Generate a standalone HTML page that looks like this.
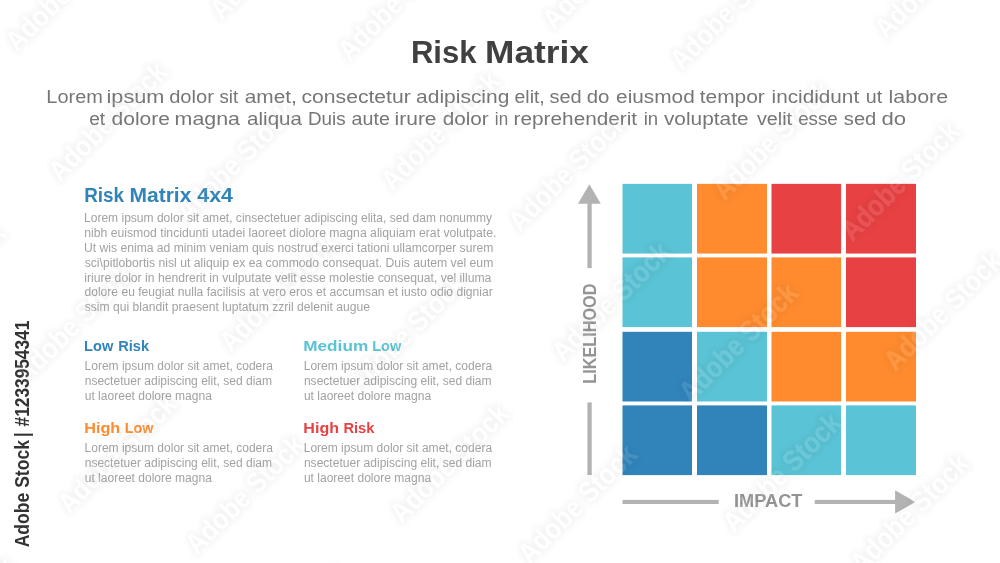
<!DOCTYPE html>
<html lang="en"><head><meta charset="utf-8"><title>Risk Matrix</title>
<style>html,body{margin:0;padding:0;background:#fff;overflow:hidden}svg{display:block;font-family:"Liberation Sans",sans-serif}</style></head><body>
<svg width="1000" height="563" viewBox="0 0 1000 563">
<rect width="1000" height="563" fill="#ffffff"/>
<defs><filter id="og" x="-2%" y="-2%" width="104%" height="104%" color-interpolation-filters="sRGB"><feMorphology in="SourceAlpha" operator="dilate" radius="1.6" result="d"/><feGaussianBlur in="d" stdDeviation="3" result="b"/><feComposite in="b" in2="SourceAlpha" operator="out"/></filter></defs>
<g>
<rect x="622.50" y="183.85" width="69.50" height="69.70" fill="#5AC3D5"/>
<rect x="697.00" y="183.85" width="70.00" height="69.70" fill="#FF8B2E"/>
<rect x="771.50" y="183.85" width="69.60" height="69.70" fill="#E84143"/>
<rect x="846.00" y="183.85" width="70.00" height="69.70" fill="#E84143"/>
<rect x="622.50" y="257.40" width="69.50" height="69.70" fill="#5AC3D5"/>
<rect x="697.00" y="257.40" width="70.00" height="69.70" fill="#FF8B2E"/>
<rect x="771.50" y="257.40" width="69.60" height="69.70" fill="#FF8B2E"/>
<rect x="846.00" y="257.40" width="70.00" height="69.70" fill="#E84143"/>
<rect x="622.50" y="331.80" width="69.50" height="69.70" fill="#3084BA"/>
<rect x="697.00" y="331.80" width="70.00" height="69.70" fill="#5AC3D5"/>
<rect x="771.50" y="331.80" width="69.60" height="69.70" fill="#FF8B2E"/>
<rect x="846.00" y="331.80" width="70.00" height="69.70" fill="#FF8B2E"/>
<rect x="622.50" y="405.40" width="69.50" height="69.70" fill="#3084BA"/>
<rect x="697.00" y="405.40" width="70.00" height="69.70" fill="#3084BA"/>
<rect x="771.50" y="405.40" width="69.60" height="69.70" fill="#5AC3D5"/>
<rect x="846.00" y="405.40" width="70.00" height="69.70" fill="#5AC3D5"/>
</g>
<g fill="#B3B3B3">
<rect x="587.4" y="203" width="4.3" height="65.1" />
<polygon points="589.4,184.2 600.8,203.8 578,203.8"/>
<rect x="587.4" y="402.4" width="4.3" height="72.6" />
<rect x="622.5" y="499.9" width="96.2" height="4.1" />
<rect x="814.7" y="499.9" width="82" height="4.1" />
<polygon points="915.4,502 895.1,490.3 895.1,513.5"/>
</g>
<text x="734.01" y="507.20" textLength="68.39" lengthAdjust="spacingAndGlyphs" font-size="17.88" fill="#949494" font-weight="700">IMPACT</text>
<g transform="translate(595.7,382.7) rotate(-90)"><text x="-1.09" y="0.00" textLength="100.17" lengthAdjust="spacingAndGlyphs" font-size="17.44" fill="#949494" font-weight="700">LIKELIHOOD</text></g>
<text x="410.92" y="63.10" textLength="65.65" lengthAdjust="spacingAndGlyphs" font-size="31.83" fill="#404040" font-weight="700">Risk</text>
<text x="485.04" y="63.10" textLength="103.82" lengthAdjust="spacingAndGlyphs" font-size="31.83" fill="#404040" font-weight="700">Matrix</text>
<g><text x="46.36" y="103.30" textLength="56.55" lengthAdjust="spacingAndGlyphs" font-size="17.44" fill="#767676">Lorem</text>
<text x="106.55" y="103.30" textLength="57.88" lengthAdjust="spacingAndGlyphs" font-size="17.44" fill="#767676">ipsum</text>
<text x="169.15" y="103.30" textLength="44.78" lengthAdjust="spacingAndGlyphs" font-size="17.44" fill="#767676">dolor</text>
<text x="219.48" y="103.30" textLength="18.66" lengthAdjust="spacingAndGlyphs" font-size="17.44" fill="#767676">sit</text>
<text x="244.71" y="103.30" textLength="52.16" lengthAdjust="spacingAndGlyphs" font-size="17.44" fill="#767676">amet,</text>
<text x="301.50" y="103.30" textLength="109.25" lengthAdjust="spacingAndGlyphs" font-size="17.44" fill="#767676">consectetur</text>
<text x="416.11" y="103.30" textLength="93.24" lengthAdjust="spacingAndGlyphs" font-size="17.44" fill="#767676">adipiscing</text>
<text x="514.58" y="103.30" textLength="30.17" lengthAdjust="spacingAndGlyphs" font-size="17.44" fill="#767676">elit,</text>
<text x="549.44" y="103.30" textLength="32.25" lengthAdjust="spacingAndGlyphs" font-size="17.44" fill="#767676">sed</text>
<text x="586.74" y="103.30" textLength="22.72" lengthAdjust="spacingAndGlyphs" font-size="17.44" fill="#767676">do</text>
<text x="616.12" y="103.30" textLength="78.62" lengthAdjust="spacingAndGlyphs" font-size="17.44" fill="#767676">eiusmod</text>
<text x="699.68" y="103.30" textLength="65.16" lengthAdjust="spacingAndGlyphs" font-size="17.44" fill="#767676">tempor</text>
<text x="771.61" y="103.30" textLength="87.54" lengthAdjust="spacingAndGlyphs" font-size="17.44" fill="#767676">incididunt</text>
<text x="865.72" y="103.30" textLength="16.42" lengthAdjust="spacingAndGlyphs" font-size="17.44" fill="#767676">ut</text>
<text x="888.56" y="103.30" textLength="59.60" lengthAdjust="spacingAndGlyphs" font-size="17.44" fill="#767676">labore</text></g>
<g><text x="89.19" y="125.00" textLength="15.95" lengthAdjust="spacingAndGlyphs" font-size="17.44" fill="#767676">et</text>
<text x="111.52" y="125.00" textLength="58.42" lengthAdjust="spacingAndGlyphs" font-size="17.44" fill="#767676">dolore</text>
<text x="174.58" y="125.00" textLength="65.42" lengthAdjust="spacingAndGlyphs" font-size="17.44" fill="#767676">magna</text>
<text x="247.13" y="125.00" textLength="54.87" lengthAdjust="spacingAndGlyphs" font-size="17.44" fill="#767676">aliqua</text>
<text x="308.06" y="125.00" textLength="37.62" lengthAdjust="spacingAndGlyphs" font-size="17.44" fill="#767676">Duis</text>
<text x="351.56" y="125.00" textLength="38.31" lengthAdjust="spacingAndGlyphs" font-size="17.44" fill="#767676">aute</text>
<text x="394.60" y="125.00" textLength="41.93" lengthAdjust="spacingAndGlyphs" font-size="17.44" fill="#767676">irure</text>
<text x="442.73" y="125.00" textLength="46.01" lengthAdjust="spacingAndGlyphs" font-size="17.44" fill="#767676">dolor</text>
<text x="494.86" y="125.00" textLength="13.24" lengthAdjust="spacingAndGlyphs" font-size="17.44" fill="#767676">in</text>
<text x="513.62" y="125.00" textLength="123.53" lengthAdjust="spacingAndGlyphs" font-size="17.44" fill="#767676">reprehenderit</text>
<text x="643.76" y="125.00" textLength="14.45" lengthAdjust="spacingAndGlyphs" font-size="17.44" fill="#767676">in</text>
<text x="663.93" y="125.00" textLength="84.60" lengthAdjust="spacingAndGlyphs" font-size="17.44" fill="#767676">voluptate</text>
<text x="756.93" y="125.00" textLength="35.21" lengthAdjust="spacingAndGlyphs" font-size="17.44" fill="#767676">velit</text>
<text x="798.20" y="125.00" textLength="39.63" lengthAdjust="spacingAndGlyphs" font-size="17.44" fill="#767676">esse</text>
<text x="843.84" y="125.00" textLength="32.46" lengthAdjust="spacingAndGlyphs" font-size="17.44" fill="#767676">sed</text>
<text x="881.47" y="125.00" textLength="24.66" lengthAdjust="spacingAndGlyphs" font-size="17.44" fill="#767676">do</text></g>
<text x="84.14" y="201.70" textLength="39.84" lengthAdjust="spacingAndGlyphs" font-size="19.91" fill="#3084BA" font-weight="700">Risk</text>
<text x="129.50" y="201.70" textLength="61.86" lengthAdjust="spacingAndGlyphs" font-size="19.91" fill="#3084BA" font-weight="700">Matrix</text>
<text x="197.28" y="201.70" textLength="35.74" lengthAdjust="spacingAndGlyphs" font-size="19.91" fill="#3084BA" font-weight="700">4x4</text>
<text x="84.01" y="222.20" textLength="408.11" lengthAdjust="spacingAndGlyphs" font-size="13.08" fill="#A2A2A2">Lorem ipsum dolor sit amet, cinsectetuer adipiscing elita, sed dam nonummy</text>
<text x="84.19" y="236.90" textLength="412.23" lengthAdjust="spacingAndGlyphs" font-size="13.08" fill="#A2A2A2">nibh euismod tincidunti utadei laoreet diolore magna aliquiam erat volutpate.</text>
<text x="84.06" y="251.90" textLength="409.24" lengthAdjust="spacingAndGlyphs" font-size="13.08" fill="#A2A2A2">Ut wis enima ad minim veniam quis nostrud exerci tationi ullamcorper surem</text>
<text x="84.66" y="266.80" textLength="408.64" lengthAdjust="spacingAndGlyphs" font-size="13.08" fill="#A2A2A2">sci\pitlobortis nisl ut aliquip ex ea commodo consequat. Duis autem vel eum</text>
<text x="84.19" y="281.60" textLength="407.21" lengthAdjust="spacingAndGlyphs" font-size="13.08" fill="#A2A2A2">iriure dolor in hendrerit in vulputate velit esse molestie consequat, vel illuma</text>
<text x="84.49" y="296.40" textLength="408.21" lengthAdjust="spacingAndGlyphs" font-size="13.08" fill="#A2A2A2">dolore eu feugiat nulla facilisis at vero eros et accumsan et iusto odio digniar</text>
<text x="84.66" y="311.30" textLength="285.28" lengthAdjust="spacingAndGlyphs" font-size="13.08" fill="#A2A2A2">ssim qui blandit praesent luptatum zzril delenit augue</text>
<text x="84.12" y="350.50" textLength="29.15" lengthAdjust="spacingAndGlyphs" font-size="15.41" fill="#3084BA" font-weight="700">Low</text>
<text x="118.22" y="350.50" textLength="30.86" lengthAdjust="spacingAndGlyphs" font-size="15.41" fill="#3084BA" font-weight="700">Risk</text>
<text x="84.51" y="369.80" textLength="188.49" lengthAdjust="spacingAndGlyphs" font-size="13.23" fill="#A2A2A2">Lorem ipsum dolor sit amet, codera</text>
<text x="84.70" y="384.80" textLength="187.39" lengthAdjust="spacingAndGlyphs" font-size="13.23" fill="#A2A2A2">nsectetuer adipiscing elit, sed diam</text>
<text x="84.72" y="399.60" textLength="127.18" lengthAdjust="spacingAndGlyphs" font-size="13.23" fill="#A2A2A2">ut laoreet dolore magna</text>
<text x="303.25" y="350.50" textLength="64.92" lengthAdjust="spacingAndGlyphs" font-size="15.41" fill="#5AC3D5" font-weight="700">Medium</text>
<text x="372.23" y="350.50" textLength="28.94" lengthAdjust="spacingAndGlyphs" font-size="15.41" fill="#5AC3D5" font-weight="700">Low</text>
<text x="303.71" y="369.80" textLength="188.39" lengthAdjust="spacingAndGlyphs" font-size="13.23" fill="#A2A2A2">Lorem ipsum dolor sit amet, codera</text>
<text x="303.90" y="384.80" textLength="187.70" lengthAdjust="spacingAndGlyphs" font-size="13.23" fill="#A2A2A2">nsectetuer adipiscing elit, sed diam</text>
<text x="303.92" y="399.60" textLength="127.18" lengthAdjust="spacingAndGlyphs" font-size="13.23" fill="#A2A2A2">ut laoreet dolore magna</text>
<text x="84.22" y="433.00" textLength="35.99" lengthAdjust="spacingAndGlyphs" font-size="15.41" fill="#FF8B2E" font-weight="700">High</text>
<text x="124.63" y="433.00" textLength="28.94" lengthAdjust="spacingAndGlyphs" font-size="15.41" fill="#FF8B2E" font-weight="700">Low</text>
<text x="84.51" y="452.20" textLength="188.49" lengthAdjust="spacingAndGlyphs" font-size="13.23" fill="#A2A2A2">Lorem ipsum dolor sit amet, codera</text>
<text x="84.70" y="467.20" textLength="187.39" lengthAdjust="spacingAndGlyphs" font-size="13.23" fill="#A2A2A2">nsectetuer adipiscing elit, sed diam</text>
<text x="84.72" y="482.00" textLength="127.18" lengthAdjust="spacingAndGlyphs" font-size="13.23" fill="#A2A2A2">ut laoreet dolore magna</text>
<text x="303.33" y="433.00" textLength="35.67" lengthAdjust="spacingAndGlyphs" font-size="15.41" fill="#E84143" font-weight="700">High</text>
<text x="343.42" y="433.00" textLength="31.07" lengthAdjust="spacingAndGlyphs" font-size="15.41" fill="#E84143" font-weight="700">Risk</text>
<text x="303.71" y="452.20" textLength="188.39" lengthAdjust="spacingAndGlyphs" font-size="13.23" fill="#A2A2A2">Lorem ipsum dolor sit amet, codera</text>
<text x="303.90" y="467.20" textLength="187.70" lengthAdjust="spacingAndGlyphs" font-size="13.23" fill="#A2A2A2">nsectetuer adipiscing elit, sed diam</text>
<text x="303.92" y="482.00" textLength="127.18" lengthAdjust="spacingAndGlyphs" font-size="13.23" fill="#A2A2A2">ut laoreet dolore magna</text>
<g transform="translate(29.0,546.9) rotate(-90)"><text x="-0.44" y="0.00" textLength="107.32" lengthAdjust="spacingAndGlyphs" font-size="19.62" fill="#333333" font-weight="700">Adobe Stock</text><text x="109.95" y="0.00" textLength="4.59" lengthAdjust="spacingAndGlyphs" font-size="19.62" fill="#333333" font-weight="700">|</text><text x="120.50" y="0.00" textLength="105.68" lengthAdjust="spacingAndGlyphs" font-size="19.62" fill="#333333" font-weight="700">#1233954341</text></g>
<g fill="#000" opacity="0.043" filter="url(#og)" pointer-events="none" font-weight="700" font-size="29">
<text transform="translate(-110.7,11.9) rotate(-45)" textLength="154" lengthAdjust="spacingAndGlyphs">Adobe Stock</text>
<text transform="translate(16.9,52.7) rotate(-45)" textLength="154" lengthAdjust="spacingAndGlyphs">Adobe Stock</text>
<text transform="translate(-101.3,344.1) rotate(-45)" textLength="154" lengthAdjust="spacingAndGlyphs">Adobe Stock</text>
<text transform="translate(60.1,182.7) rotate(-45)" textLength="154" lengthAdjust="spacingAndGlyphs">Adobe Stock</text>
<text transform="translate(221.5,21.3) rotate(-45)" textLength="154" lengthAdjust="spacingAndGlyphs">Adobe Stock</text>
<text transform="translate(-135.1,546.4) rotate(-45)" textLength="154" lengthAdjust="spacingAndGlyphs">Adobe Stock</text>
<text transform="translate(26.3,384.9) rotate(-45)" textLength="154" lengthAdjust="spacingAndGlyphs">Adobe Stock</text>
<text transform="translate(187.7,223.5) rotate(-45)" textLength="154" lengthAdjust="spacingAndGlyphs">Adobe Stock</text>
<text transform="translate(349.2,62.1) rotate(-45)" textLength="154" lengthAdjust="spacingAndGlyphs">Adobe Stock</text>
<text transform="translate(-91.9,676.4) rotate(-45)" textLength="154" lengthAdjust="spacingAndGlyphs">Adobe Stock</text>
<text transform="translate(69.5,515.0) rotate(-45)" textLength="154" lengthAdjust="spacingAndGlyphs">Adobe Stock</text>
<text transform="translate(230.9,353.6) rotate(-45)" textLength="154" lengthAdjust="spacingAndGlyphs">Adobe Stock</text>
<text transform="translate(392.4,192.1) rotate(-45)" textLength="154" lengthAdjust="spacingAndGlyphs">Adobe Stock</text>
<text transform="translate(553.8,30.7) rotate(-45)" textLength="154" lengthAdjust="spacingAndGlyphs">Adobe Stock</text>
<text transform="translate(197.1,555.8) rotate(-45)" textLength="154" lengthAdjust="spacingAndGlyphs">Adobe Stock</text>
<text transform="translate(358.6,394.4) rotate(-45)" textLength="154" lengthAdjust="spacingAndGlyphs">Adobe Stock</text>
<text transform="translate(520.0,232.9) rotate(-45)" textLength="154" lengthAdjust="spacingAndGlyphs">Adobe Stock</text>
<text transform="translate(681.4,71.5) rotate(-45)" textLength="154" lengthAdjust="spacingAndGlyphs">Adobe Stock</text>
<text transform="translate(240.3,685.8) rotate(-45)" textLength="154" lengthAdjust="spacingAndGlyphs">Adobe Stock</text>
<text transform="translate(401.8,524.4) rotate(-45)" textLength="154" lengthAdjust="spacingAndGlyphs">Adobe Stock</text>
<text transform="translate(563.2,363.0) rotate(-45)" textLength="154" lengthAdjust="spacingAndGlyphs">Adobe Stock</text>
<text transform="translate(724.6,201.5) rotate(-45)" textLength="154" lengthAdjust="spacingAndGlyphs">Adobe Stock</text>
<text transform="translate(886.1,40.1) rotate(-45)" textLength="154" lengthAdjust="spacingAndGlyphs">Adobe Stock</text>
<text transform="translate(529.4,565.2) rotate(-45)" textLength="154" lengthAdjust="spacingAndGlyphs">Adobe Stock</text>
<text transform="translate(690.8,403.8) rotate(-45)" textLength="154" lengthAdjust="spacingAndGlyphs">Adobe Stock</text>
<text transform="translate(852.3,242.3) rotate(-45)" textLength="154" lengthAdjust="spacingAndGlyphs">Adobe Stock</text>
<text transform="translate(1013.7,80.9) rotate(-45)" textLength="154" lengthAdjust="spacingAndGlyphs">Adobe Stock</text>
<text transform="translate(572.6,695.2) rotate(-45)" textLength="154" lengthAdjust="spacingAndGlyphs">Adobe Stock</text>
<text transform="translate(734.0,533.8) rotate(-45)" textLength="154" lengthAdjust="spacingAndGlyphs">Adobe Stock</text>
<text transform="translate(895.5,372.4) rotate(-45)" textLength="154" lengthAdjust="spacingAndGlyphs">Adobe Stock</text>
<text transform="translate(861.7,574.6) rotate(-45)" textLength="154" lengthAdjust="spacingAndGlyphs">Adobe Stock</text>
</g>
<g fill="#fff" stroke="#fff" stroke-width="0.7" opacity="0.10" pointer-events="none" font-weight="700" font-size="29">
<text transform="translate(-110.7,11.9) rotate(-45)" textLength="154" lengthAdjust="spacingAndGlyphs">Adobe Stock</text>
<text transform="translate(16.9,52.7) rotate(-45)" textLength="154" lengthAdjust="spacingAndGlyphs">Adobe Stock</text>
<text transform="translate(-101.3,344.1) rotate(-45)" textLength="154" lengthAdjust="spacingAndGlyphs">Adobe Stock</text>
<text transform="translate(60.1,182.7) rotate(-45)" textLength="154" lengthAdjust="spacingAndGlyphs">Adobe Stock</text>
<text transform="translate(221.5,21.3) rotate(-45)" textLength="154" lengthAdjust="spacingAndGlyphs">Adobe Stock</text>
<text transform="translate(-135.1,546.4) rotate(-45)" textLength="154" lengthAdjust="spacingAndGlyphs">Adobe Stock</text>
<text transform="translate(26.3,384.9) rotate(-45)" textLength="154" lengthAdjust="spacingAndGlyphs">Adobe Stock</text>
<text transform="translate(187.7,223.5) rotate(-45)" textLength="154" lengthAdjust="spacingAndGlyphs">Adobe Stock</text>
<text transform="translate(349.2,62.1) rotate(-45)" textLength="154" lengthAdjust="spacingAndGlyphs">Adobe Stock</text>
<text transform="translate(-91.9,676.4) rotate(-45)" textLength="154" lengthAdjust="spacingAndGlyphs">Adobe Stock</text>
<text transform="translate(69.5,515.0) rotate(-45)" textLength="154" lengthAdjust="spacingAndGlyphs">Adobe Stock</text>
<text transform="translate(230.9,353.6) rotate(-45)" textLength="154" lengthAdjust="spacingAndGlyphs">Adobe Stock</text>
<text transform="translate(392.4,192.1) rotate(-45)" textLength="154" lengthAdjust="spacingAndGlyphs">Adobe Stock</text>
<text transform="translate(553.8,30.7) rotate(-45)" textLength="154" lengthAdjust="spacingAndGlyphs">Adobe Stock</text>
<text transform="translate(197.1,555.8) rotate(-45)" textLength="154" lengthAdjust="spacingAndGlyphs">Adobe Stock</text>
<text transform="translate(358.6,394.4) rotate(-45)" textLength="154" lengthAdjust="spacingAndGlyphs">Adobe Stock</text>
<text transform="translate(520.0,232.9) rotate(-45)" textLength="154" lengthAdjust="spacingAndGlyphs">Adobe Stock</text>
<text transform="translate(681.4,71.5) rotate(-45)" textLength="154" lengthAdjust="spacingAndGlyphs">Adobe Stock</text>
<text transform="translate(240.3,685.8) rotate(-45)" textLength="154" lengthAdjust="spacingAndGlyphs">Adobe Stock</text>
<text transform="translate(401.8,524.4) rotate(-45)" textLength="154" lengthAdjust="spacingAndGlyphs">Adobe Stock</text>
<text transform="translate(563.2,363.0) rotate(-45)" textLength="154" lengthAdjust="spacingAndGlyphs">Adobe Stock</text>
<text transform="translate(724.6,201.5) rotate(-45)" textLength="154" lengthAdjust="spacingAndGlyphs">Adobe Stock</text>
<text transform="translate(886.1,40.1) rotate(-45)" textLength="154" lengthAdjust="spacingAndGlyphs">Adobe Stock</text>
<text transform="translate(529.4,565.2) rotate(-45)" textLength="154" lengthAdjust="spacingAndGlyphs">Adobe Stock</text>
<text transform="translate(690.8,403.8) rotate(-45)" textLength="154" lengthAdjust="spacingAndGlyphs">Adobe Stock</text>
<text transform="translate(852.3,242.3) rotate(-45)" textLength="154" lengthAdjust="spacingAndGlyphs">Adobe Stock</text>
<text transform="translate(1013.7,80.9) rotate(-45)" textLength="154" lengthAdjust="spacingAndGlyphs">Adobe Stock</text>
<text transform="translate(572.6,695.2) rotate(-45)" textLength="154" lengthAdjust="spacingAndGlyphs">Adobe Stock</text>
<text transform="translate(734.0,533.8) rotate(-45)" textLength="154" lengthAdjust="spacingAndGlyphs">Adobe Stock</text>
<text transform="translate(895.5,372.4) rotate(-45)" textLength="154" lengthAdjust="spacingAndGlyphs">Adobe Stock</text>
<text transform="translate(861.7,574.6) rotate(-45)" textLength="154" lengthAdjust="spacingAndGlyphs">Adobe Stock</text>
</g>
</svg></body></html>
